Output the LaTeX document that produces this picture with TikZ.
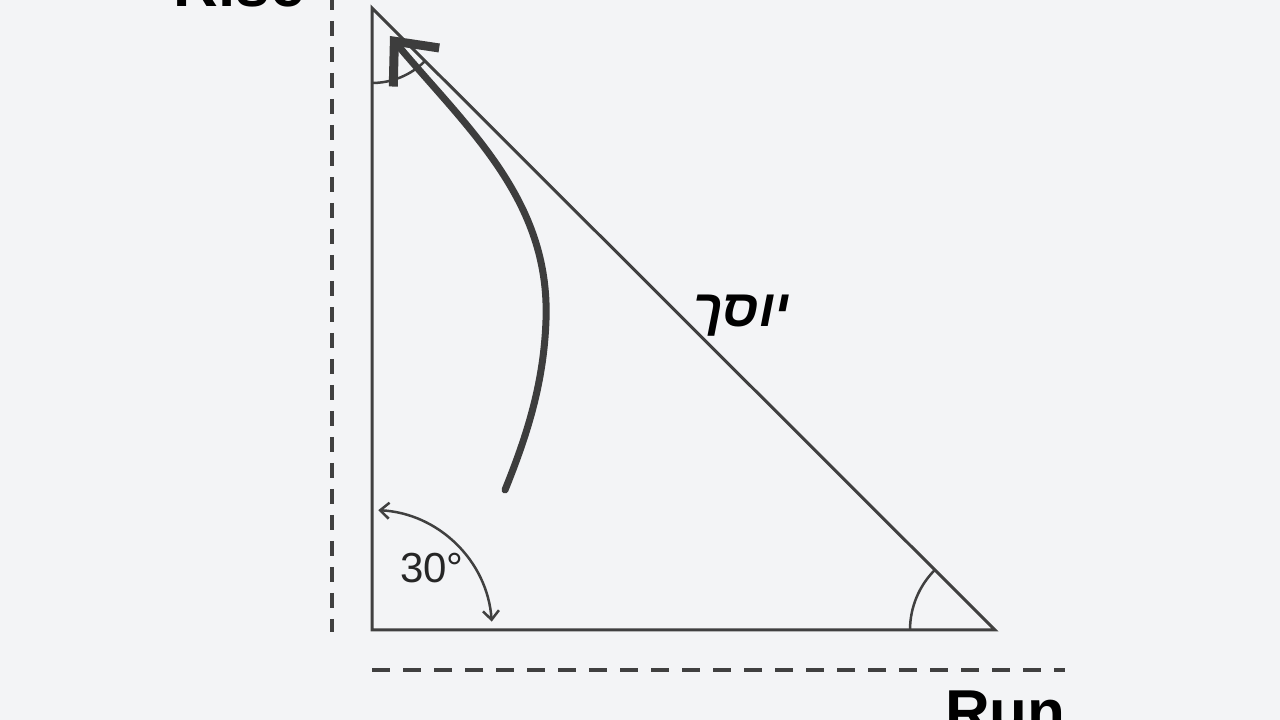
\documentclass[tikz,border=0pt]{standalone}
\usepackage{fontspec}
\setmainfont{Liberation Sans}
\newfontfamily\hebfont[Script=Hebrew]{Liberation Sans}
\TeXXeTstate=1
\usetikzlibrary{arrows.meta}
\definecolor{bg}{HTML}{F3F4F6}
\definecolor{ink}{HTML}{404040}

\begin{document}
\begin{tikzpicture}[x=1pt, y=1pt,
	side line/.style={draw=ink, line width=3pt, line join=miter},
	guide line/.style={draw=ink, line width=4pt},
	angle mark/.style={draw=ink, line width=2.5pt},
	angle arrow/.style={draw=ink, line width=2.5pt,
		{Straight Barb[length=9pt,width=16pt]}-{Straight Barb[length=9pt,width=16pt]}},
	big arrow/.style={draw=ink!95!black, line width=7pt, line cap=round,
		-{Straight Barb[length=34pt,width=60pt,line width=9pt]}},
	axis label/.style={font=\fontsize{62}{70}\selectfont\bfseries, text=black, inner sep=0pt}]
	
	\fill[bg] (0,0) rectangle (1280,720);
	\useasboundingbox (0,0) rectangle (1280,720);
	
	\coordinate (1) at (372,712);
	\coordinate (2) at (372,90);
	\coordinate (3) at (995,90);
	
	% dashed guides
	\coordinate (v1) at (332,725);
	\coordinate (v2) at (332,88);
	\coordinate (h1) at (372,50);
	\coordinate (h2) at (1065,50);
	\draw[guide line, dash pattern=on 15pt off 11pt] (v1) -- (v2);
	\draw[guide line, line width=3.5pt, dash pattern=on 18pt off 13pt] (h1) -- (h2);
	
	\draw[side line] (1) -- (2) -- (3) -- cycle;
	
	% angle marks
	\draw[angle mark] ([shift={(270:75)}]1) arc[start angle=270, end angle=315, radius=75];
	\draw[angle mark] ([shift={(180:85)}]3) arc[start angle=180, end angle=135, radius=85];
	\draw[angle arrow] ([shift={(87:120)}]2) arc[start angle=87, end angle=4, radius=120];
	
	% turning arrow
	\coordinate (s) at (505,230);
	\coordinate (m) at (546,400);
	\coordinate (t) at (390,684);
	\draw[big arrow] (s) to[out=68, in=-92, looseness=0.9] (m) to[out=88, in=-50, looseness=0.95] (t);
	
	\node[font=\fontsize{42}{50}\selectfont, text=black!85, inner sep=0pt, anchor=base] (angle) at (432,137) {30°};
	\node[font=\hebfont\bfseries\itshape\fontsize{52}{60}\selectfont, text=black, inner sep=0pt, anchor=base] (hyp) at (742,393) {\beginR יוסך\endR};
	\node[axis label, anchor=base east] (rise) at (305,713) {Rise};
	\node[axis label, anchor=base west] (run) at (945,-14) {Run};
\end{tikzpicture}
\end{document}
